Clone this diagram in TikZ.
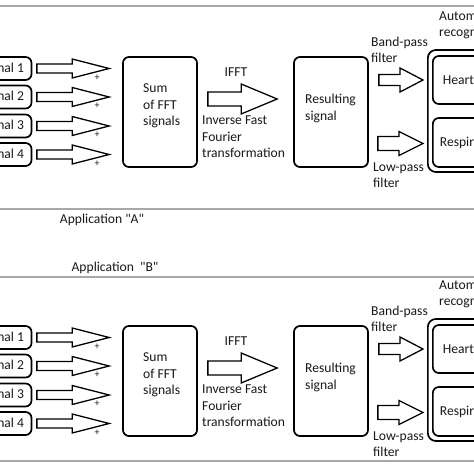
\documentclass[tikz,border=0pt]{standalone}
\usepackage{fontspec}
\setmainfont{Carlito}[Ligatures=TeXOff]
\usetikzlibrary{positioning,calc}
\definecolor{rulegray}{RGB}{168,168,168}
\definecolor{inkdark}{RGB}{25,25,25}
% block arrow: tail, tip, half shaft, half head, head length
\newcommand{\fatarrow}[5]{%
  \draw[fat] ($(#1)+(0,-#3)$) -- ($(#2)+(-#5,-#3)$) -- ($(#2)+(-#5,-#4)$) -- (#2)
    -- ($(#2)+(-#5,#4)$) -- ($(#2)+(-#5,#3)$) -- ($(#1)+(0,#3)$) -- cycle;}

\begin{document}
\begin{tikzpicture}[x=1pt,y=-1pt,
 font=\fontsize{13.6}{16.6}\selectfont,text=inkdark,
 box/.style={draw=black,line width=1.7pt,rounded corners=6pt,inner sep=0pt},
 txt/.style={align=left,inner sep=0pt},
 fat/.style={draw=black,line width=1.3pt,fill=white},
 rule/.style={draw=rulegray,line width=1.8pt},
 plus/.style={font=\fontsize{10}{10}\selectfont,inner sep=0pt}]
\fill[white] (0,0) rectangle (474,474);
\useasboundingbox (0,0) rectangle (474,474);
\clip (0,0) rectangle (474,474);

% panel rules and titles
\draw[rule] (-10,6) -- (484,6);
\draw[rule] (-10,209) -- (484,209);
\draw[rule] (-10,277) -- (484,277);
\draw[rule] (-10,461) -- (484,461);
\node[txt] (appA) at (102,220) {Application "A"};
\node[txt] (appB) at (115,268) {Application\ \ "B"};

\foreach \dy/\pn in {0/a,269/b}{
 \node[box,minimum width=74pt,minimum height=110pt] (sum\pn) at (160,112+\dy) {};
 \node[txt,anchor=west] (sumtxt\pn) at (143,106+\dy) {Sum\\of FFT\\signals};
 \node[box,minimum width=74pt,minimum height=110pt] (res\pn) at (331,112+\dy) {};
 \node[txt,anchor=west] (restxt\pn) at (305,108.5+\dy) {Resulting\\signal};
 \node[box,rounded corners=8pt,anchor=west,minimum width=150pt,minimum height=122pt] (recog\pn) at (427,111+\dy) {};
 \node[box,anchor=west,text width=110pt,inner xsep=10pt,minimum height=48pt,align=left] (heart\pn) at (432,80+\dy) {Heart rate};
 \node[box,anchor=west,text width=110pt,inner xsep=7pt,minimum height=49pt,align=left] (resp\pn) at (432,142.5+\dy) {Respiration rate};
 \node[txt,anchor=west] (recoglbl\pn) at (439,25+\dy) {Automatic\\recognition};
 \foreach \i/\yc in {1/68.5,2/97,3/126,4/154.5}{
  \node[box,minimum width=57.5pt,minimum height=23pt] (sig\i\pn) at (2.75,\yc+\dy) {Signal \i\hspace{4pt}};
  \coordinate (t\i\pn) at ($(sig\i\pn.east)+(4.5,0)$);
  \coordinate (h\i\pn) at ($(sum\pn.west|-sig\i\pn.east)+(-13,0)$);
  \fatarrow{t\i\pn}{h\i\pn}{4.5}{9.5}{37}
  \node[plus] (plus\i\pn) at ($(h\i\pn)+(-12,9)$) {+};
 }
 % IFFT
 \coordinate (it\pn) at ($(sum\pn.east)+(10,-13)$);
 \coordinate (ih\pn) at ($(res\pn.west)+(-16,-13)$);
 \fatarrow{it\pn}{ih\pn}{7}{15}{36}
 \node[txt] (ifft\pn) at (236,72+\dy) {IFFT};
 \node[txt,anchor=west] (ifftlbl\pn) at (202,137+\dy) {Inverse Fast\\Fourier\\transformation};
 % filters
 \coordinate (bt\pn) at ($(res\pn.east|-heart\pn.west)+(10,0)$);
 \coordinate (bh\pn) at ($(recog\pn.west|-heart\pn.west)+(-4,0)$);
 \fatarrow{bt\pn}{bh\pn}{5.5}{12}{23}
 \coordinate (lt\pn) at ($(res\pn.east|-resp\pn.west)+(9,1)$);
 \coordinate (lh\pn) at ($(recog\pn.west|-resp\pn.west)+(-4,1)$);
 \fatarrow{lt\pn}{lh\pn}{7}{12}{24}
 \node[txt,anchor=west] (bandlbl\pn) at (371,50+\dy) {Band-pass\\filter};
 \node[txt,anchor=west] (lowlbl\pn) at (373,175+\dy) {Low-pass\\filter};
}
\end{tikzpicture}
\end{document}
